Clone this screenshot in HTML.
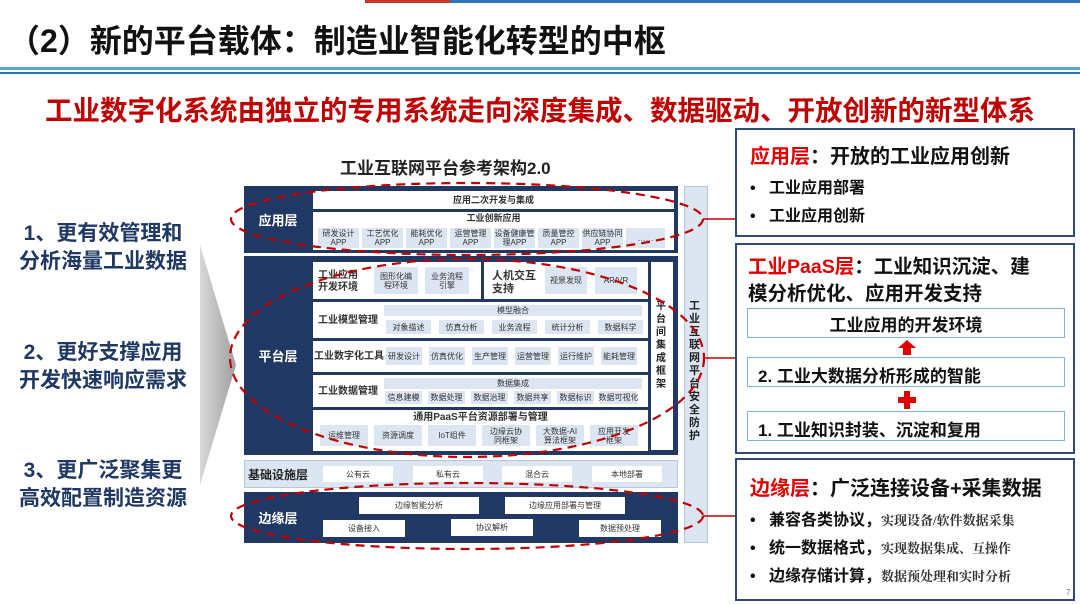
<!DOCTYPE html>
<html><head><meta charset="utf-8"><style>
*{margin:0;padding:0;box-sizing:border-box}
body{width:1080px;height:604px;background:#fff;position:relative;overflow:hidden;font-family:"Liberation Sans","Noto Sans CJK SC",sans-serif}
.a{position:absolute}
.c{display:flex;align-items:center;justify-content:center;text-align:center}
.nv{background:#1f3864}
.w{background:#fff}
.lb{background:#dce6f2}
.t{font-size:8px;color:#333;line-height:9px;white-space:nowrap}
.wl{color:#fff;font-weight:bold;font-size:13px}
.bx{border:2px solid #2f4a7a;background:#fff}
.ib{border:1.5px solid #7fb6d6;background:#fff;font-size:16px;font-weight:bold;color:#111}
</style></head><body>
<div class="a" style="left:365px;top:0;width:85px;height:3px;background:#c0392b"></div>
<div class="a" style="left:450px;top:0;width:630px;height:3px;background:#2e75b6"></div>
<div class="a" style="left:8px;top:16px;font-size:32px;font-weight:bold;color:#111;white-space:nowrap">（2）新的平台载体：制造业智能化转型的中枢</div>
<div class="a" style="left:0;top:67px;width:1080px;height:3px;background:#5aa7c8"></div>
<div class="a" style="left:0;top:72px;width:1080px;height:2px;background:#2e75b6"></div>
<div class="a" style="left:45px;top:88px;font-size:27.5px;font-weight:bold;color:#c00000;white-space:nowrap">工业数字化系统由独立的专用系统走向深度集成、数据驱动、开放创新的新型体系</div>
<div class="a" style="left:340px;top:154px;font-size:17px;font-weight:bold;color:#222">工业互联网平台参考架构2.0</div>

<div class="a" style="left:6px;top:220px;width:194px;font-size:21px;font-weight:bold;color:#1f3864;line-height:28px;text-align:center">1、更有效管理和<br>分析海量工业数据</div>
<div class="a" style="left:6px;top:339px;width:194px;font-size:21px;font-weight:bold;color:#1f3864;line-height:28px;text-align:center">2、更好支撑应用<br>开发快速响应需求</div>
<div class="a" style="left:6px;top:457px;width:194px;font-size:21px;font-weight:bold;color:#1f3864;line-height:28px;text-align:center">3、更广泛聚集更<br>高效配置制造资源</div>
<svg class="a" style="left:198px;top:245px" width="40" height="240"><defs><linearGradient id="g" x1="0" x2="1"><stop offset="0" stop-color="#d8d8d8"/><stop offset="1" stop-color="#a0a0a0"/></linearGradient></defs><polygon points="2,0 38,120 2,240" fill="url(#g)"/></svg>

<!-- app layer -->
<div class="a nv" style="left:244px;top:186px;width:434px;height:67px"></div>
<div class="a wl c" style="left:244px;top:186px;width:68px;height:67px">应用层</div>
<div class="a w c t" style="left:313px;top:191px;width:361px;height:18px;font-size:9px;font-weight:bold">应用二次开发与集成</div>
<div class="a w" style="left:313px;top:212px;width:361px;height:38px"></div>
<div class="a t" style="left:313px;top:214px;width:361px;text-align:center;font-weight:bold;font-size:9px">工业创新应用</div>
<div class="a" style="left:318px;top:228px;display:flex;gap:3px">
<div class="lb c t" style="width:41px;height:20px">研发设计<br>APP</div><div class="lb c t" style="width:41px;height:20px">工艺优化<br>APP</div><div class="lb c t" style="width:41px;height:20px">能耗优化<br>APP</div><div class="lb c t" style="width:41px;height:20px">运营管理<br>APP</div><div class="lb c t" style="width:41px;height:20px">设备健康管<br>理APP</div><div class="lb c t" style="width:41px;height:20px">质量管控<br>APP</div><div class="lb c t" style="width:41px;height:20px">供应链协同<br>APP</div><div class="lb c t" style="width:39px;height:20px">……</div></div>

<!-- security -->
<div class="a lb" style="left:684px;top:186px;width:24px;height:357px;border:1px solid #b8c8dc"></div>
<div class="a" style="left:689px;top:300px;width:14px;font-size:11px;font-weight:bold;line-height:13px;color:#222">工业互联网平台安全防护</div>

<!-- platform -->
<div class="a nv" style="left:244px;top:256px;width:434px;height:199px"></div>
<div class="a wl c" style="left:244px;top:256px;width:68px;height:199px">平台层</div>
<div class="a w" style="left:313px;top:262px;width:168px;height:37px"></div>
<div class="a w" style="left:484px;top:262px;width:164px;height:37px"></div>
<div class="a t" style="left:318px;top:270px;font-weight:bold;font-size:10px;line-height:12px">工业应用<br>开发环境</div>
<div class="a lb c t" style="left:374px;top:267px;width:44px;height:27px">图形化编<br>程环境</div>
<div class="a lb c t" style="left:425px;top:267px;width:44px;height:27px">业务流程<br>引擎</div>
<div class="a t" style="left:492px;top:270px;font-weight:bold;font-size:11px;line-height:13px">人机交互<br>支持</div>
<div class="a lb c t" style="left:545px;top:267px;width:42px;height:27px">视景发现</div>
<div class="a lb c t" style="left:595px;top:267px;width:42px;height:27px">AR/VR</div>
<div class="a w" style="left:651px;top:262px;width:22px;height:188px"></div>
<div class="a" style="left:656px;top:300px;width:12px;font-size:10px;font-weight:bold;line-height:13px;color:#222">平台间集成框架</div>

<div class="a w" style="left:313px;top:302px;width:335px;height:36px"></div>
<div class="a t c" style="left:313px;top:302px;width:70px;height:36px;font-weight:bold;font-size:10px">工业模型管理</div>
<div class="a lb c t" style="left:384px;top:305px;width:258px;height:11px">模型融合</div>
<div class="a" style="left:386px;top:320px;display:flex;gap:8px"><div class="lb c t" style="width:45px;height:14px">对象描述</div><div class="lb c t" style="width:45px;height:14px">仿真分析</div><div class="lb c t" style="width:45px;height:14px">业务流程</div><div class="lb c t" style="width:45px;height:14px">统计分析</div><div class="lb c t" style="width:45px;height:14px">数据科学</div></div>

<div class="a w" style="left:313px;top:341px;width:335px;height:31px"></div>
<div class="a t c" style="left:313px;top:341px;width:72px;height:31px;font-weight:bold;font-size:10px">工业数字化工具</div>
<div class="a" style="left:386px;top:347px;display:flex;gap:7px"><div class="lb c t" style="width:36px;height:18px">研发设计</div><div class="lb c t" style="width:36px;height:18px">仿真优化</div><div class="lb c t" style="width:36px;height:18px">生产管理</div><div class="lb c t" style="width:36px;height:18px">运营管理</div><div class="lb c t" style="width:36px;height:18px">运行维护</div><div class="lb c t" style="width:36px;height:18px">能耗管理</div></div>

<div class="a w" style="left:313px;top:375px;width:335px;height:32px"></div>
<div class="a t c" style="left:313px;top:375px;width:70px;height:32px;font-weight:bold;font-size:10px">工业数据管理</div>
<div class="a lb c t" style="left:384px;top:378px;width:258px;height:11px">数据集成</div>
<div class="a" style="left:385px;top:391px;display:flex;gap:6px"><div class="lb c t" style="width:37px;height:13px">信息建模</div><div class="lb c t" style="width:37px;height:13px">数据处理</div><div class="lb c t" style="width:37px;height:13px">数据治理</div><div class="lb c t" style="width:37px;height:13px">数据共享</div><div class="lb c t" style="width:37px;height:13px">数据标识</div><div class="lb c t" style="width:37px;height:13px">数据可视化</div></div>

<div class="a w" style="left:313px;top:410px;width:335px;height:41px"></div>
<div class="a t" style="left:313px;top:412px;width:335px;text-align:center;font-weight:bold;font-size:10px;line-height:12px">通用PaaS平台资源部署与管理</div>
<div class="a" style="left:320px;top:425px;display:flex;gap:6px"><div class="lb c t" style="width:48px;height:21px">运维管理</div><div class="lb c t" style="width:48px;height:21px">资源调度</div><div class="lb c t" style="width:48px;height:21px">IoT组件</div><div class="lb c t" style="width:48px;height:21px">边缘云协<br>同框架</div><div class="lb c t" style="width:48px;height:21px">大数据-AI<br>算法框架</div><div class="lb c t" style="width:48px;height:21px">应用开发<br>框架</div></div>

<!-- infra -->
<div class="a lb" style="left:244px;top:460px;width:434px;height:28px;border:1px solid #b8c8dc"></div>
<div class="a c" style="left:244px;top:460px;width:68px;height:28px;font-size:12px;font-weight:bold;color:#222">基础设施层</div>
<div class="a w c t" style="left:323px;top:466px;width:70px;height:16px">公有云</div>
<div class="a w c t" style="left:413px;top:466px;width:70px;height:16px">私有云</div>
<div class="a w c t" style="left:502px;top:466px;width:70px;height:16px">混合云</div>
<div class="a w c t" style="left:592px;top:466px;width:70px;height:16px">本地部署</div>

<!-- edge -->
<div class="a nv" style="left:244px;top:492px;width:434px;height:51px"></div>
<div class="a wl c" style="left:244px;top:492px;width:68px;height:51px">边缘层</div>
<div class="a w c t" style="left:359px;top:497px;width:120px;height:17px">边缘智能分析</div>
<div class="a w c t" style="left:505px;top:497px;width:120px;height:17px">边缘应用部署与管理</div>
<div class="a w c t" style="left:323px;top:520px;width:82px;height:17px">设备接入</div>
<div class="a w c t" style="left:451px;top:519px;width:82px;height:17px">协议解析</div>
<div class="a w c t" style="left:579px;top:520px;width:82px;height:17px">数据预处理</div>

<svg class="a" style="left:0;top:0" width="1080" height="604">
<g fill="none" stroke="#c00000" stroke-width="2.2" stroke-dasharray="9,6">
<ellipse cx="467" cy="219" rx="236" ry="36"/>
<ellipse cx="467" cy="358" rx="237" ry="99"/>
<ellipse cx="467" cy="516" rx="236" ry="33"/>
</g>
<g stroke="#c00000" stroke-width="1.5"><line x1="703" y1="219" x2="735" y2="219"/><line x1="704" y1="358" x2="735" y2="358"/><line x1="703" y1="516" x2="735" y2="516"/></g>
</svg>

<!-- right panels -->
<div class="a bx" style="left:735px;top:128px;width:340px;height:109px"></div>
<div class="a" style="left:750px;top:140px;font-size:20px;font-weight:bold;color:#111;white-space:nowrap"><span style="color:#e00000">应用层</span>：开放的工业应用创新</div>
<div class="a" style="left:750px;top:175px;font-size:16px;font-weight:bold;color:#111;line-height:28px">•&nbsp;&nbsp;&nbsp;工业应用部署<br>•&nbsp;&nbsp;&nbsp;工业应用创新</div>

<div class="a bx" style="left:735px;top:243px;width:340px;height:211px"></div>
<div class="a" style="left:748px;top:254px;width:320px;font-size:19.5px;font-weight:bold;color:#111;line-height:27px;white-space:nowrap"><span style="color:#e00000">工业PaaS层</span>：工业知识沉淀、建<br>模分析优化、应用开发支持</div>
<div class="a ib c" style="left:747px;top:308px;width:318px;height:30px;font-size:17px">工业应用的开发环境</div>
<svg class="a" style="left:897px;top:340px" width="20" height="16"><polygon points="10,0 19,8 14,8 14,15 6,15 6,8 1,8" fill="#e00000"/></svg>
<div class="a ib" style="left:747px;top:357px;width:318px;height:30px;padding:4px 0 0 10px;font-size:17px">2. 工业大数据分析形成的智能</div>
<svg class="a" style="left:896px;top:390px" width="22" height="20"><rect x="8" y="1" width="6" height="18" fill="#e00000"/><rect x="2" y="7" width="18" height="6" fill="#e00000"/></svg>
<div class="a ib" style="left:747px;top:411px;width:318px;height:30px;padding:4px 0 0 10px;font-size:17px">1. 工业知识封装、沉淀和复用</div>

<div class="a bx" style="left:735px;top:458px;width:340px;height:143px"></div>
<div class="a" style="left:750px;top:472px;font-size:20px;font-weight:bold;color:#111;white-space:nowrap"><span style="color:#e00000">边缘层</span>：广泛连接设备+采集数据</div>
<div class="a" style="left:750px;top:507px;font-size:16px;font-weight:bold;color:#111;line-height:28px;white-space:nowrap">•&nbsp;&nbsp;&nbsp;兼容各类协议，<span style="font-size:13px;font-family:'Liberation Serif','Noto Serif CJK SC',serif;color:#333">实现设备/软件数据采集</span><br>•&nbsp;&nbsp;&nbsp;统一数据格式，<span style="font-size:13px;font-family:'Liberation Serif','Noto Serif CJK SC',serif;color:#333">实现数据集成、互操作</span><br>•&nbsp;&nbsp;&nbsp;边缘存储计算，<span style="font-size:13px;font-family:'Liberation Serif','Noto Serif CJK SC',serif;color:#333">数据预处理和实时分析</span></div>
<div class="a" style="left:1066px;top:588px;font-size:8px;color:#777">7</div>
</body></html>
